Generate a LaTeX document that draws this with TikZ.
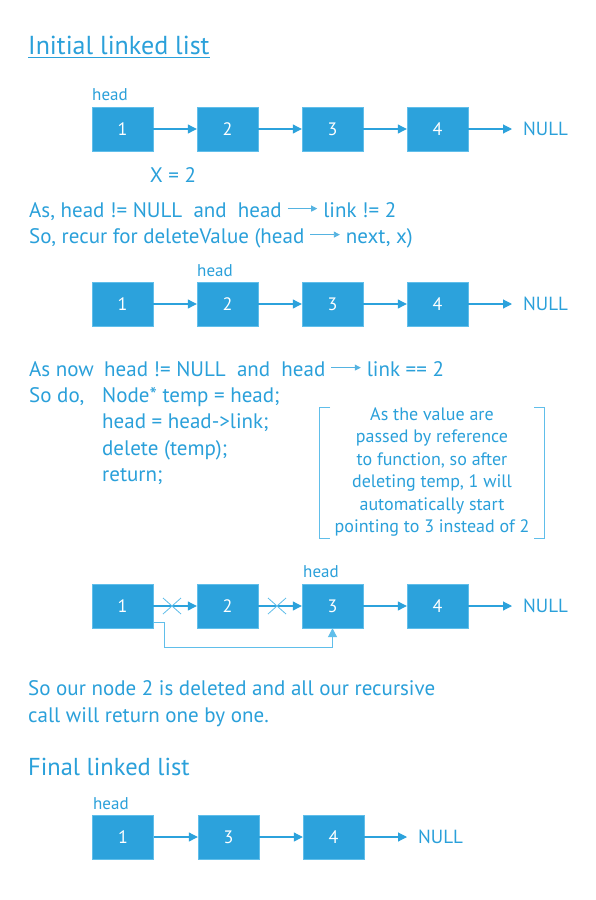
\documentclass[tikz,border=0pt]{standalone}
\usepackage{fontspec}
\setmainfont{PT Sans}
\usetikzlibrary{arrows.meta}
\definecolor{boxblue}{RGB}{44,162,220}
\definecolor{txtblue}{RGB}{42,160,218}
\definecolor{lightblue}{RGB}{96,190,234}
\newcommand\inarr{\tikz[baseline]\draw[txtblue!80, line width=0.9pt, -{Triangle[length=6pt,width=6pt]}] (0,0.4em) -- (1.4em,0.4em);}
\tikzset{
  lbox/.style={fill=boxblue, draw=lightblue, line width=0.4pt, minimum width=61pt, minimum height=44pt, inner sep=0pt, text=white, font=\fontsize{18}{20}\selectfont},
  lnk/.style={draw=boxblue, line width=1.1pt, -{Triangle[length=9pt,width=9pt]}},
  bypass/.style={draw=lightblue, line width=1pt},
  cross/.style={draw=lightblue, line width=0.8pt},
  body/.style={anchor=base west, inner sep=0pt, text=txtblue, font=\fontsize{21}{24}\selectfont},
  small/.style={anchor=base west, inner sep=0pt, text=txtblue, font=\fontsize{17}{19}\selectfont},
  note/.style={anchor=base, inner sep=0pt, text=txtblue, font=\fontsize{18}{20}\selectfont},
  nulltxt/.style={anchor=west, inner sep=0pt, text=txtblue, font=\fontsize{19}{22}\selectfont},
  ttl/.style={anchor=base west, inner sep=0pt, text=txtblue, font=\fontsize{26}{30}\selectfont},
  ttlb/.style={anchor=base west, inner sep=0pt, text=txtblue, font=\fontsize{24.5}{29}\selectfont},
}
\begin{document}
\begin{tikzpicture}[x=1pt,y=-1pt]
\useasboundingbox[fill=white] (0,0) rectangle (595,900);
% title
\node[ttl] (t1) at (28,54) {Initial linked list};
\draw[txtblue, line width=1pt] ([yshift=-3pt]t1.base west) -- ([yshift=-3pt]t1.base east);
% row 1
\node[small] (h1) at (92,100) {head};
\node[lbox] (a1) at (122.5,129) {1};
\node[lbox] (a2) at (227.5,129) {2};
\node[lbox] (a3) at (332.5,129) {3};
\node[lbox] (a4) at (437.5,129) {4};
\node[nulltxt] (an) at (523,129) {NULL};
\draw[lnk] (a1) -- (a2);
\draw[lnk] (a2) -- (a3);
\draw[lnk] (a3) -- (a4);
\draw[lnk] (a4) -- ([xshift=-11pt]an.west);
\node[body, anchor=base] (x2) at (173,182) {X = 2};
\node[body] (l1) at (29,217) {As, head != NULL\ \ and\ \ head \inarr\ link != 2};
\node[body] (l2) at (29,243) {So, recur for deleteValue (head \inarr\ next, x)};
% row 2
\node[small] (h2) at (197,276) {head};
\node[lbox] (b1) at (122.5,304) {1};
\node[lbox] (b2) at (227.5,304) {2};
\node[lbox] (b3) at (332.5,304) {3};
\node[lbox] (b4) at (437.5,304) {4};
\node[nulltxt] (bn) at (523,304) {NULL};
\draw[lnk] (b1) -- (b2);
\draw[lnk] (b2) -- (b3);
\draw[lnk] (b3) -- (b4);
\draw[lnk] (b4) -- ([xshift=-11pt]bn.west);
% code block
\node[body] (c1a) at (29,376) {As now};
\node[body] (c1b) at (104,376) {head != NULL\ \ and\ \ head \inarr\ link == 2};
\node[body] (c2a) at (29,402) {So do,};
\node[body] (c2b) at (102,402) {Node* temp = head;};
\node[body] (c3) at (102,428) {head = head->link;};
\node[body] (c4) at (102,455) {delete (temp);};
\node[body] (c5) at (102,481) {return;};
% bracket note
\draw[lightblue, line width=1pt] (330,407) -- (319,407) -- (319,538) -- (330,538);
\draw[lightblue, line width=1pt] (534,407) -- (544,407) -- (544,538) -- (534,538);
\node[note] (n1) at (432,420) {As the value are};
\node[note] (n2) at (432,442.5) {passed by reference};
\node[note] (n3) at (432,465) {to function, so after};
\node[note] (n4) at (432,487.5) {deleting temp, 1 will};
\node[note] (n5) at (432,510) {automatically start};
\node[note] (n6) at (432,532.5) {pointing to 3 instead of 2};
% row 3
\node[small] (h3) at (303,577) {head};
\node[lbox] (d1) at (122.5,606) {1};
\node[lbox] (d2) at (227.5,606) {2};
\node[lbox] (d3) at (332.5,606) {3};
\node[lbox] (d4) at (437.5,606) {4};
\node[nulltxt] (dn) at (523,606) {NULL};
\draw[lnk] (d1) -- (d2);
\draw[lnk] (d2) -- (d3);
\draw[lnk] (d3) -- (d4);
\draw[lnk] (d4) -- ([xshift=-11pt]dn.west);
\coordinate (x1) at (172,606);
\coordinate (x2c) at (277,606);
\draw[cross] ([shift={(-9pt,-8pt)}]x1) -- ([shift={(9pt,8pt)}]x1);
\draw[cross] ([shift={(-9pt,8pt)}]x1) -- ([shift={(9pt,-8pt)}]x1);
\draw[cross] ([shift={(-9pt,-8pt)}]x2c) -- ([shift={(9pt,8pt)}]x2c);
\draw[cross] ([shift={(-9pt,8pt)}]x2c) -- ([shift={(9pt,-8pt)}]x2c);
\draw[bypass, -{Triangle[length=9pt,width=9pt]}] ([yshift=-16pt]d1.east) -| (164,647) -| (d3.south);
% closing text
\node[body] (s1) at (28,695) {So our node 2 is deleted and all our recursive};
\node[body] (s2) at (28,722) {call will return one by one.};
\node[ttlb] (t2) at (28,775) {Final linked list};
% row 4
\node[small] (h4) at (93,809) {head};
\node[lbox] (e1) at (123,837) {1};
\node[lbox] (e2) at (228.5,837) {3};
\node[lbox] (e3) at (333.5,837) {4};
\node[nulltxt] (en) at (418,837) {NULL};
\draw[lnk] (e1) -- (e2);
\draw[lnk] (e2) -- (e3);
\draw[lnk] (e3) -- ([xshift=-11pt]en.west);
\end{tikzpicture}
\end{document}
